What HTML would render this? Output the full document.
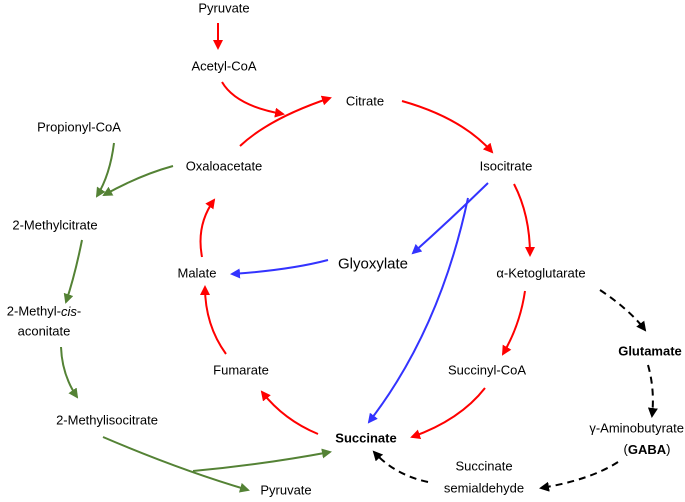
<!DOCTYPE html>
<html><head><meta charset="utf-8"><style>
html,body{margin:0;padding:0;background:#fff;}
svg{display:block;}
text{font-family:"Liberation Sans",sans-serif;font-size:13px;fill:#000;text-anchor:middle;dominant-baseline:central;}
</style></head><body>
<svg width="685" height="502" viewBox="0 0 685 502" xmlns="http://www.w3.org/2000/svg">
<defs>
<marker id="r" markerWidth="10" markerHeight="10" refX="8" refY="5" orient="auto" markerUnits="userSpaceOnUse"><path d="M0,0 L10,5 L0,10 z" fill="#ff0000"/></marker>
<marker id="g" markerWidth="10" markerHeight="10" refX="8" refY="5" orient="auto" markerUnits="userSpaceOnUse"><path d="M0,0 L10,5 L0,10 z" fill="#548235"/></marker>
<marker id="b" markerWidth="10" markerHeight="10" refX="8" refY="5" orient="auto" markerUnits="userSpaceOnUse"><path d="M0,0 L10,5 L0,10 z" fill="#3333ff"/></marker>
<marker id="k" markerWidth="10" markerHeight="10" refX="8" refY="5" orient="auto" markerUnits="userSpaceOnUse"><path d="M0,0 L10,5 L0,10 z" fill="#000"/></marker>
</defs>
<g fill="none" stroke-width="2">
<g stroke="#ff0000">
<path d="M218,23 L218,48" marker-end="url(#r)"/>
<path d="M222,82 Q236,106 283,114" marker-end="url(#r)"/>
<path d="M240,146 Q270,118 330,98" marker-end="url(#r)"/>
<path d="M402,101 Q462,118 492,152" marker-end="url(#r)"/>
<path d="M514,184 Q530,215 530,255" marker-end="url(#r)"/>
<path d="M525,291 Q520,325 503,354" marker-end="url(#r)"/>
<path d="M485,388 Q460,420 412,437" marker-end="url(#r)"/>
<path d="M318,434 Q284,420 262,392" marker-end="url(#r)"/>
<path d="M226,354 Q205,325 205,287" marker-end="url(#r)"/>
<path d="M202,257 Q196,225 214,200" marker-end="url(#r)"/>
</g>
<g stroke="#3333ff">
<path d="M488,183 Q450,220 413,253" marker-end="url(#b)"/>
<path d="M468,198 Q440,330 369,422" marker-end="url(#b)"/>
<path d="M328,260 Q290,270 232,274" marker-end="url(#b)"/>
</g>
<g stroke="#548235">
<path d="M114,143 Q110,175 97,196" marker-end="url(#g)"/>
<path d="M173,166 Q140,175 104,195" marker-end="url(#g)"/>
<path d="M82,240 Q75,275 66,302" marker-end="url(#g)"/>
<path d="M61,347 Q62,375 77,397" marker-end="url(#g)"/>
<path d="M103,437 Q180,470 248,490" marker-end="url(#g)"/>
<path d="M193,471 Q260,465 330,452" marker-end="url(#g)"/>
</g>
<g stroke="#000" stroke-dasharray="7,5">
<path d="M600,290 Q630,310 645,330" marker-end="url(#k)"/>
<path d="M648,365 Q655,390 652,416" marker-end="url(#k)"/>
<path d="M618,462 Q590,480 541,488" marker-end="url(#k)"/>
<path d="M428,482 Q395,475 374,452" marker-end="url(#k)"/>
</g>
</g>
<text x="224" y="8">Pyruvate</text>
<text x="224" y="66">Acetyl-CoA</text>
<text x="365" y="101">Citrate</text>
<text x="79" y="127">Propionyl-CoA</text>
<text x="224" y="166">Oxaloacetate</text>
<text x="506" y="166">Isocitrate</text>
<text x="55" y="225">2-Methylcitrate</text>
<text x="373" y="264" style="font-size:15px">Glyoxylate</text>
<text x="197" y="273">Malate</text>
<text x="541" y="273">α-Ketoglutarate</text>
<text x="44" y="311">2-Methyl-<tspan font-style="italic">cis</tspan>-</text>
<text x="44" y="331">aconitate</text>
<text x="650" y="351" font-weight="bold">Glutamate</text>
<text x="241" y="370">Fumarate</text>
<text x="487" y="370">Succinyl-CoA</text>
<text x="107" y="420">2-Methylisocitrate</text>
<text x="366" y="438" font-weight="bold">Succinate</text>
<text x="684" y="428" style="text-anchor:end">γ-Aminobutyrate</text>
<text x="647" y="449">(<tspan font-weight="bold">GABA</tspan>)</text>
<text x="484" y="466">Succinate</text>
<text x="484" y="488">semialdehyde</text>
<text x="286" y="490">Pyruvate</text>
</svg>
</body></html>
